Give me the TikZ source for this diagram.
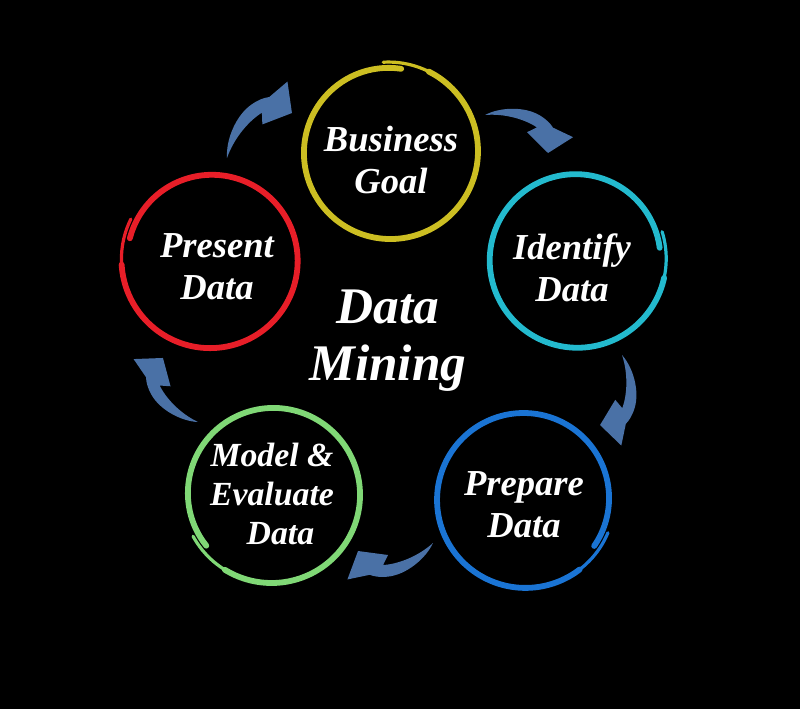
\documentclass[tikz,border=0pt]{standalone}
\usepackage{fontspec}
\setmainfont{Liberation Serif}
\usepackage{tikz}
\usetikzlibrary{positioning}

\definecolor{goalyellow}{RGB}{204,190,34}
\definecolor{identcyan}{RGB}{35,186,206}
\definecolor{prepblue}{RGB}{26,116,212}
\definecolor{modelgreen}{RGB}{128,216,118}
\definecolor{presentred}{RGB}{232,30,40}
\definecolor{arrowblue}{RGB}{74,113,166}

\begin{document}
\begin{tikzpicture}[x=0.01cm, y=0.01cm,
  stage/.style={text=white, font=\fontsize{10.4}{12}\selectfont\bfseries\itshape, align=center, inner sep=0pt},
  title/.style={text=white, font=\fontsize{14.6}{16.2}\selectfont\bfseries\itshape, align=center, inner sep=0pt},
  ring/.style={line width=0.058cm, line cap=round},
  ringtail/.style={line width=0.032cm, line cap=round},
  bendarrow/.pic={\fill[arrowblue] (0,0) .. controls (12,20) and (40,38) .. (64,38)
     .. controls (75,38) and (82,36) .. (88,33) -- (118,36) -- (100,0) -- (61,9.5) -- (69,22)
     .. controls (50,23) and (22,16) .. (0,0) -- cycle;}]

\fill[black] (0,0) rectangle (800,-709);
\useasboundingbox (0,0) rectangle (800,-709);

% hand drawn rings: centre / inner end angle / sweep / colour
\foreach \cx/\cy/\a/\s/\col in {389.5/-152/82/372/goalyellow, 576.5/-259.5/8/370/identcyan,
    524.5/-499/-34/372/prepblue, 272.5/-494/218/-370/modelgreen, 211/-260/165/-372/presentred} {
  \draw[ring, \col] plot[domain=0:0.92, samples=90, smooth, variable=\t]
    ({\cx+(84+6*\t)*cos(\a+(\s)*\t)}, {\cy+(84+6*\t)*sin(\a+(\s)*\t)});
  \draw[ringtail, \col] plot[domain=0.9:1, samples=15, smooth, variable=\t]
    ({\cx+(84+6*\t)*cos(\a+(\s)*\t)}, {\cy+(84+6*\t)*sin(\a+(\s)*\t)});
}

% stage texts
\node[stage] (goal) at (391,-160) {Business\\Goal};
\node[stage] (identify) at (572,-268) {Identify\\Data};
\node[stage] (prepare) at (524,-505) {Prepare\\Data};
\node[stage, font=\fontsize{9.6}{11}\selectfont\bfseries\itshape] (model) at (272,-494) {Model \&\\Evaluate\\\hspace*{0.5em}Data};
\node[stage] (present) at (217,-267) {Present\\Data};
\node[title] (mining) at (388,-341) {Data\\Mining};

% curved arrows between the stages
\pic[rotate=34.7, scale=0.79] at (227,-158) {bendarrow};
\pic[rotate=-31.1, scale=0.736] at (485,-115) {bendarrow};
\pic[rotate=-107.4, scale=0.734] at (622,-355) {bendarrow};
\pic[rotate=186.1, scale=0.754] at (433,-543) {bendarrow};
\pic[rotate=118.7, scale=0.73] at (198,-422) {bendarrow};

\end{tikzpicture}
\end{document}
